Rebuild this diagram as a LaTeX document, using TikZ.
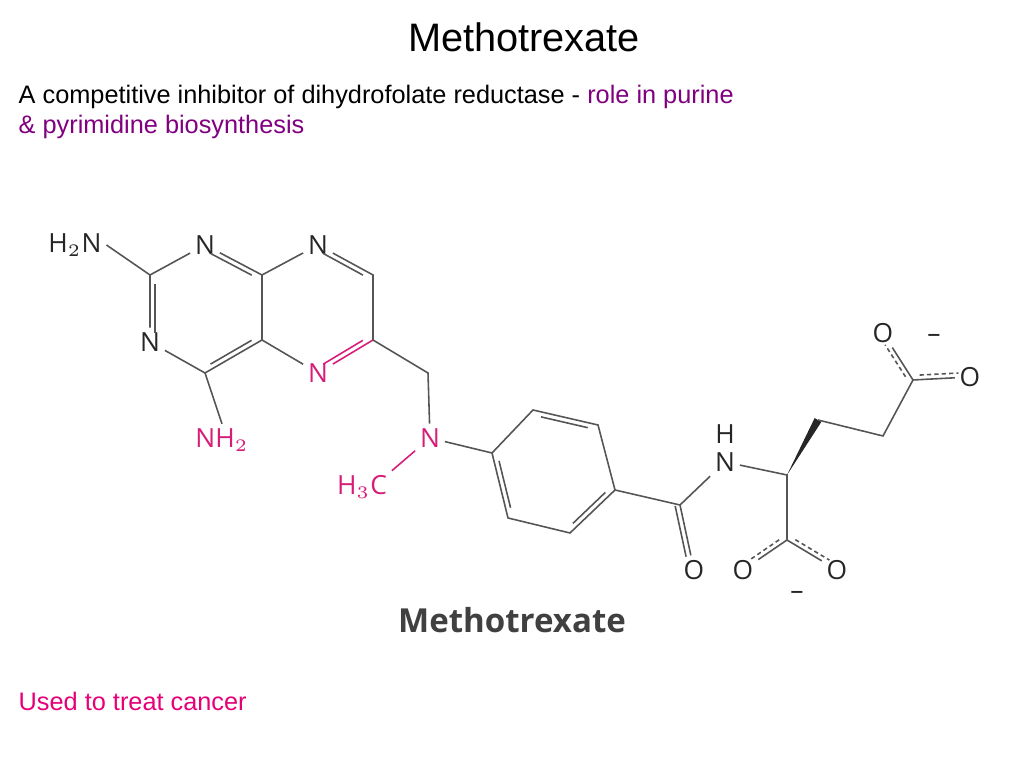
\documentclass[tikz,border=0pt]{standalone}
\usepackage{fontspec}
\setmainfont{Liberation Sans}
\newfontfamily\atomf{Open Sans}
\usetikzlibrary{calc}
\definecolor{pk}{RGB}{214,30,120}
\definecolor{bd}{RGB}{85,85,85}
\definecolor{pur}{RGB}{128,0,128}
\definecolor{red2}{RGB}{230,0,120}
\tikzset{
 atom/.style={font=\atomf\fontsize{7.5}{8}\selectfont,inner sep=1.2pt,text=black!85},
 patom/.style={atom,text=pk},
 bond/.style={draw=bd,line width=0.45pt},
 pbond/.style={draw=pk,line width=0.45pt},
 dbond/.style={bond,dash pattern=on 1.2pt off 0.9pt},
 txt/.style={anchor=west,font=\fontsize{7.2}{8.5}\selectfont,inner sep=0pt}
}
\newcommand{\dbl}[4][bond]{\draw[#1] ($(#2)!0.14!(#3)!1.4pt!#4:(#3)$) -- ($(#3)!0.14!(#2)!1.4pt!-#4:(#2)$);}
\begin{document}
\begin{tikzpicture}[x=0.01cm,y=-0.01cm]
\useasboundingbox (0,0) rectangle (1024,768);
\node[font=\fontsize{11.3}{13}\selectfont] (title) at (524,37) {Methotrexate};
\node[txt] (l1) at (18,97) {A competitive inhibitor of dihydrofolate reductase - \textcolor{pur}{role in purine}};
\node[txt,text=pur] (l2) at (18,127) {\& pyrimidine biosynthesis};
\node[txt,text=red2] (l3) at (18,701) {Used to treat cancer};
% atoms
\node[atom] (nh2a) at (75,245) {H$_2$N};
\coordinate (c2) at (150,275);
\node[atom] (n1) at (205,245) {N};
\coordinate (c8a) at (262,275);
\node[atom] (n3) at (150,342) {N};
\coordinate (c4) at (205,373);
\coordinate (c4a) at (262,340);
\node[patom] (nh2b) at (222,440) {NH$_2$};
\node[atom] (n8) at (318,245) {N};
\coordinate (c7) at (373,275);
\coordinate (c6) at (373,340);
\node[patom] (n5) at (318,373) {N};
\coordinate (c9) at (428,373);
\node[patom] (n10) at (430,438) {N};
\node[patom] (me) at (362,487) {H$_3$C};
\coordinate (b1) at (492,453);
\coordinate (b2) at (533,410);
\coordinate (b3) at (598,425);
\coordinate (b4) at (615,490);
\coordinate (b5) at (570,533);
\coordinate (b6) at (508,518);
\coordinate (cc) at (680,505);
\node[atom] (o1) at (694,570) {O};
\node[atom] (nh) at (725,462) {N};
\node[atom] (h) at (725,434) {H};
\coordinate (ca) at (787,475);
\coordinate (cb) at (818,420);
\coordinate (cg) at (883,436);
\coordinate (cd) at (913,380);
\node[atom] (o2) at (883,333) {O};
\node[atom] (o3) at (970,377) {O};
\node[atom] (m1) at (934,338) {\textendash};
\coordinate (ck) at (787,540);
\node[atom] (o4) at (743,570) {O};
\node[atom] (o5) at (837,570) {O};
\node[atom] (m2) at (797,595) {\textendash};
\node[font=\atomf\bfseries\fontsize{9.4}{11}\selectfont,text=black!75] (lbl) at (512,620) {Methotrexate};
% bonds
\draw[bond] (nh2a.east) -- (c2) -- (n1) -- (c8a) -- (c4a) -- (c4) -- (n3) -- (c2);
\draw[bond] (c8a) -- (n8) -- (c7) -- (c6);
\draw[bond] (c4a) -- (n5);
\draw[pbond] (n5) -- (c6);
\draw[bond] (c4) -- (nh2b.north);
\draw[bond] (c6) -- (c9) -- (n10);
\draw[pbond] (n10) -- (me.north east);
\draw[bond] (n10) -- (b1) -- (b2) -- (b3) -- (b4) -- (b5) -- (b6) -- (b1);
\draw[bond] (b4) -- (cc) -- (o1);
\draw[bond] (cc) -- (nh) -- (ca) -- (ck);
\fill[black!85] (ca) -- ($(cb)!1.1pt!90:(ca)$) -- ($(cb)!1.1pt!-90:(ca)$) -- cycle;
\draw[bond] (cb) -- (cg) -- (cd);
\draw[bond] (cd) -- (o2); \draw[bond] (cd) -- (o3);
\draw[bond] (ck) -- (o4); \draw[bond] (ck) -- (o5);
% double bonds
\dbl{c2}{n3}{90}
\dbl{n1}{c8a}{-90}
\dbl{c4}{c4a}{90}
\dbl{n8}{c7}{-90}
\dbl[pbond]{c6}{n5}{-90}
\dbl{b2}{b3}{-90}
\dbl{b4}{b5}{-90}
\dbl{b6}{b1}{-90}
\draw[bond] ($(cc)!1.4pt!-90:(o1)$) -- ($(o1)!0.22!(cc)!1.4pt!90:(cc)$);
\draw[dbond] ($(cd)!0.12!(o2)!1.3pt!90:(o2)$) -- ($(o2)!0.2!(cd)!1.3pt!-90:(cd)$);
\draw[dbond] ($(cd)!0.12!(o3)!1.3pt!90:(o3)$) -- ($(o3)!0.2!(cd)!1.3pt!-90:(cd)$);
\draw[dbond] ($(ck)!0.12!(o4)!1.3pt!-90:(o4)$) -- ($(o4)!0.2!(ck)!1.3pt!90:(ck)$);
\draw[dbond] ($(ck)!0.12!(o5)!1.3pt!90:(o5)$) -- ($(o5)!0.2!(ck)!1.3pt!-90:(ck)$);
\end{tikzpicture}
\end{document}
